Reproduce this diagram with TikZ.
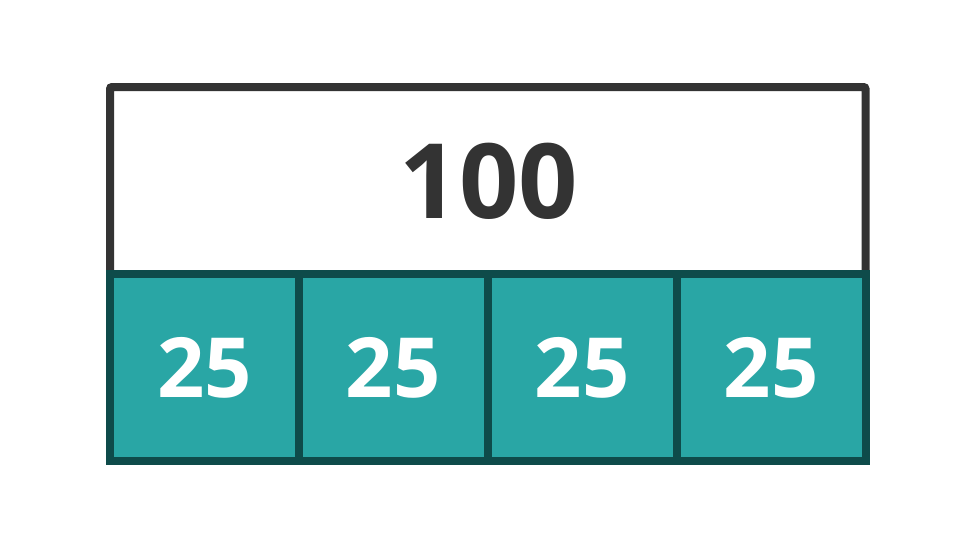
\documentclass[tikz,border=0pt]{standalone}
\usepackage{fontspec}
\setmainfont{Open Sans}
\definecolor{darkgrey}{HTML}{333333}
\definecolor{tealfill}{HTML}{29A6A5}
\definecolor{tealedge}{HTML}{0E4B4A}
\tikzset{
  wholebox/.style={draw=darkgrey, line width=8pt, fill=white, rounded corners=2pt},
  partbox/.style={draw=tealedge, line width=8pt, fill=tealfill},
  wholelabel/.style={font=\fontsize{104}{110}\selectfont\bfseries, text=darkgrey},
  partlabel/.style={font=\fontsize{83}{90}\selectfont\bfseries, text=white}
}
\begin{document}
\begin{tikzpicture}[x=1pt,y=-1pt]
\useasboundingbox (0,0) rectangle (976,549);
\draw[wholebox] (110,87) rectangle (865.5,274);
\node[wholelabel] (whole) at (489,181) {100};
\foreach \i in {0,1,2,3}{
  \pgfmathsetmacro{\xa}{110+\i*188.875}
  \pgfmathsetmacro{\xb}{110+(\i+1)*188.875}
  \draw[partbox] (\xa,274) rectangle (\xb,461);
  \node[partlabel] (part\i) at ({(\xa+\xb)/2},368) {25};
}
\end{tikzpicture}
\end{document}
